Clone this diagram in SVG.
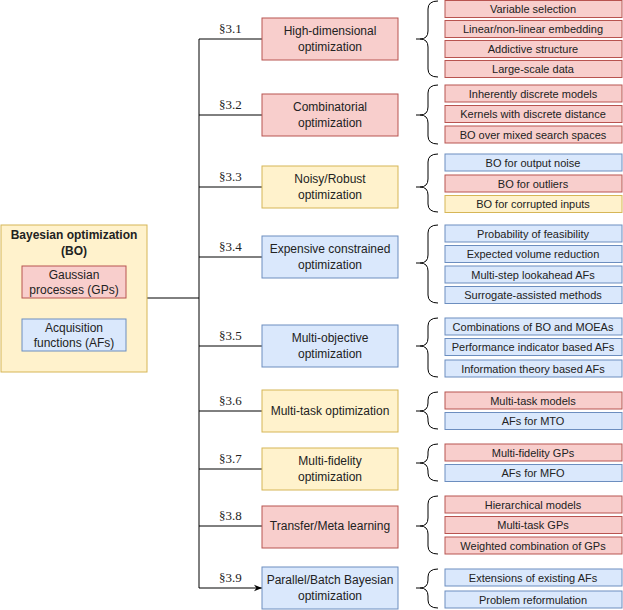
<svg xmlns="http://www.w3.org/2000/svg" width="623" height="610" viewBox="0 0 623 610">
<defs>
<style>
text{font-family:"Liberation Sans",Arial,sans-serif;font-size:12px;fill:#222;text-anchor:middle;dominant-baseline:central}
.s text{font-size:11px}
.sec{font-family:"Liberation Serif","DejaVu Serif",serif;font-size:13px;text-anchor:start}
.r{fill:#f8cecc;stroke:#b85450}
.y{fill:#fff2cc;stroke:#d6b656}
.b{fill:#dae8fc;stroke:#6c8ebf}
.c{fill:none;stroke:#000;stroke-width:1}
.br{fill:none;stroke:#000;stroke-width:1}
</style>
<marker id="a" viewBox="0 0 10 10" refX="10" refY="5" markerWidth="8" markerHeight="8" orient="auto"><path d="M0,1 L10,5 L0,9 L3,5 Z" fill="#000"/></marker>
</defs>
<g id="connectors">
<path class="c" d="M147,298 L199,298 M199,39 L199,588"/>
<path class="c" marker-end="url(#a)" d="M199,39 H262 M199,115 H262 M199,187 H262 M199,257 H262 M199,346 H262 M199,411 H262 M199,469 H262 M199,526 H262 M199,588 H262"/>
<g class="sec">
<text class="sec" x="219" y="28">§3.1</text><text class="sec" x="219" y="104">§3.2</text><text class="sec" x="219" y="176">§3.3</text><text class="sec" x="219" y="246">§3.4</text><text class="sec" x="219" y="335">§3.5</text><text class="sec" x="219" y="400">§3.6</text><text class="sec" x="219" y="458">§3.7</text><text class="sec" x="219" y="515">§3.8</text><text class="sec" x="219" y="577">§3.9</text>
</g>
<path class="br" d="M416,39 H420 Q428,39 428,31 V9 Q428,1 438,1 M420,39 Q428,39 428,47 V69 Q428,77 438,77"/>
<path class="br" d="M416,115 H420 Q428,115 428,107 V93 Q428,85 438,85 M420,115 Q428,115 428,123 V136 Q428,144 438,144"/>
<path class="br" d="M416,187 H420 Q428,187 428,179 V162 Q428,154 438,154 M420,187 Q428,187 428,195 V204 Q428,212 438,212"/>
<path class="br" d="M416,263 H420 Q428,263 428,255 V233 Q428,225 438,225 M420,263 Q428,263 428,271 V295 Q428,303 438,303"/>
<path class="br" d="M416,346 H420 Q428,346 428,338 V326 Q428,318 438,318 M420,346 Q428,346 428,354 V369 Q428,377 438,377"/>
<path class="br" d="M416,411 H420 Q428,411 428,403 V400 Q428,392 438,392 M420,411 Q428,411 428,419 V421 Q428,429 438,429"/>
<path class="br" d="M416,463 H420 Q428,463 428,455 V452 Q428,444 438,444 M420,463 Q428,463 428,471 V473 Q428,481 438,481"/>
<path class="br" d="M416,526 H420 Q428,526 428,518 V504 Q428,496 438,496 M420,526 Q428,526 428,534 V546 Q428,554 438,554"/>
<path class="br" d="M416,588 H420 Q428,588 428,580 V577 Q428,569 438,569 M420,588 Q428,588 428,596 V600 Q428,608 438,608"/>
</g>
<g id="bo"><rect class="y" x="1" y="225" width="146" height="147"/><text x="74" y="235" font-weight="bold">Bayesian optimization</text><text x="74" y="251" font-weight="bold">(BO)</text></g>
<g id="gp"><rect class="r" x="22" y="266" width="104" height="32"/><text x="74" y="275">Gaussian</text><text x="74" y="290">processes (GPs)</text></g>
<g id="af"><rect class="b" x="22" y="319" width="104" height="32"/><text x="74" y="328">Acquisition</text><text x="74" y="343">functions (AFs)</text></g>
<g id="m1"><rect class="r" x="262" y="18" width="136" height="42"/><text x="330" y="31">High-dimensional</text><text x="330" y="47">optimization</text></g>
<g id="m2"><rect class="r" x="262" y="94" width="136" height="42"/><text x="330" y="107">Combinatorial</text><text x="330" y="123">optimization</text></g>
<g id="m3"><rect class="y" x="262" y="166" width="136" height="42"/><text x="330" y="179">Noisy/Robust</text><text x="330" y="195">optimization</text></g>
<g id="m4"><rect class="b" x="262" y="236" width="136" height="42"/><text x="330" y="249">Expensive constrained</text><text x="330" y="265">optimization</text></g>
<g id="m5"><rect class="b" x="262" y="325" width="136" height="42"/><text x="330" y="338">Multi-objective</text><text x="330" y="354">optimization</text></g>
<g id="m6"><rect class="y" x="262" y="390" width="136" height="42"/><text x="330" y="411">Multi-task optimization</text></g>
<g id="m7"><rect class="y" x="262" y="448" width="136" height="42"/><text x="330" y="461">Multi-fidelity</text><text x="330" y="477">optimization</text></g>
<g id="m8"><rect class="r" x="262" y="506" width="136" height="42"/><text x="330" y="526">Transfer/Meta learning</text></g>
<g id="m9"><rect class="b" x="262" y="567" width="136" height="42"/><text x="330" y="580">Parallel/Batch Bayesian</text><text x="330" y="596">optimization</text></g>
<g class="s">
<g id="l1"><rect class="r" x="445" y="0.5" width="177" height="17"/><text x="533" y="9">Variable selection</text></g>
<g id="l2"><rect class="r" x="445" y="20.5" width="177" height="17"/><text x="533" y="29">Linear/non-linear embedding</text></g>
<g id="l3"><rect class="r" x="445" y="40.5" width="177" height="17"/><text x="533" y="49">Addictive structure</text></g>
<g id="l4"><rect class="r" x="445" y="60.5" width="177" height="17"/><text x="533" y="69">Large-scale data</text></g>
<g id="l5"><rect class="r" x="445" y="85" width="177" height="17"/><text x="533" y="93.5">Inherently discrete models</text></g>
<g id="l6"><rect class="r" x="445" y="105.5" width="177" height="17"/><text x="533" y="114">Kernels with discrete distance</text></g>
<g id="l7"><rect class="r" x="445" y="126" width="177" height="17"/><text x="533" y="134.5">BO over mixed search spaces</text></g>
<g id="l8"><rect class="b" x="445" y="154" width="177" height="17"/><text x="533" y="162.5">BO for output noise</text></g>
<g id="l9"><rect class="r" x="445" y="175" width="177" height="17"/><text x="533" y="183.5">BO for outliers</text></g>
<g id="l10"><rect class="y" x="445" y="195.5" width="177" height="17"/><text x="533" y="204">BO for corrupted inputs</text></g>
<g id="l11"><rect class="b" x="445" y="225" width="177" height="17"/><text x="533" y="233.5">Probability of feasibility</text></g>
<g id="l12"><rect class="b" x="445" y="245.5" width="177" height="17"/><text x="533" y="254">Expected volume reduction</text></g>
<g id="l13"><rect class="b" x="445" y="266" width="177" height="17"/><text x="533" y="274.5">Multi-step lookahead AFs</text></g>
<g id="l14"><rect class="b" x="445" y="286.5" width="177" height="17"/><text x="533" y="295">Surrogate-assisted  methods</text></g>
<g id="l15"><rect class="b" x="445" y="318" width="177" height="17"/><text x="533" y="326.5">Combinations of BO and MOEAs</text></g>
<g id="l16"><rect class="b" x="445" y="338.5" width="177" height="17"/><text x="533" y="347">Performance indicator  based AFs</text></g>
<g id="l17"><rect class="b" x="445" y="360" width="177" height="17"/><text x="533" y="368.5">Information theory based AFs</text></g>
<g id="l18"><rect class="r" x="445" y="392" width="177" height="17"/><text x="533" y="400.5">Multi-task models</text></g>
<g id="l19"><rect class="b" x="445" y="412.5" width="177" height="17"/><text x="533" y="421">AFs for MTO</text></g>
<g id="l20"><rect class="r" x="445" y="444" width="177" height="17"/><text x="533" y="452.5">Multi-fidelity GPs</text></g>
<g id="l21"><rect class="b" x="445" y="464.5" width="177" height="17"/><text x="533" y="473">AFs for MFO</text></g>
<g id="l22"><rect class="r" x="445" y="496" width="177" height="17"/><text x="533" y="504.5">Hierarchical models</text></g>
<g id="l23"><rect class="r" x="445" y="516.5" width="177" height="17"/><text x="533" y="525">Multi-task GPs</text></g>
<g id="l24"><rect class="r" x="445" y="537" width="177" height="17"/><text x="533" y="545.5">Weighted combination of GPs</text></g>
<g id="l25"><rect class="b" x="445" y="569" width="177" height="17"/><text x="533" y="577.5">Extensions of existing AFs</text></g>
<g id="l26"><rect class="b" x="445" y="591" width="177" height="17"/><text x="533" y="599.5">Problem reformulation</text></g>
</g>
</svg>
